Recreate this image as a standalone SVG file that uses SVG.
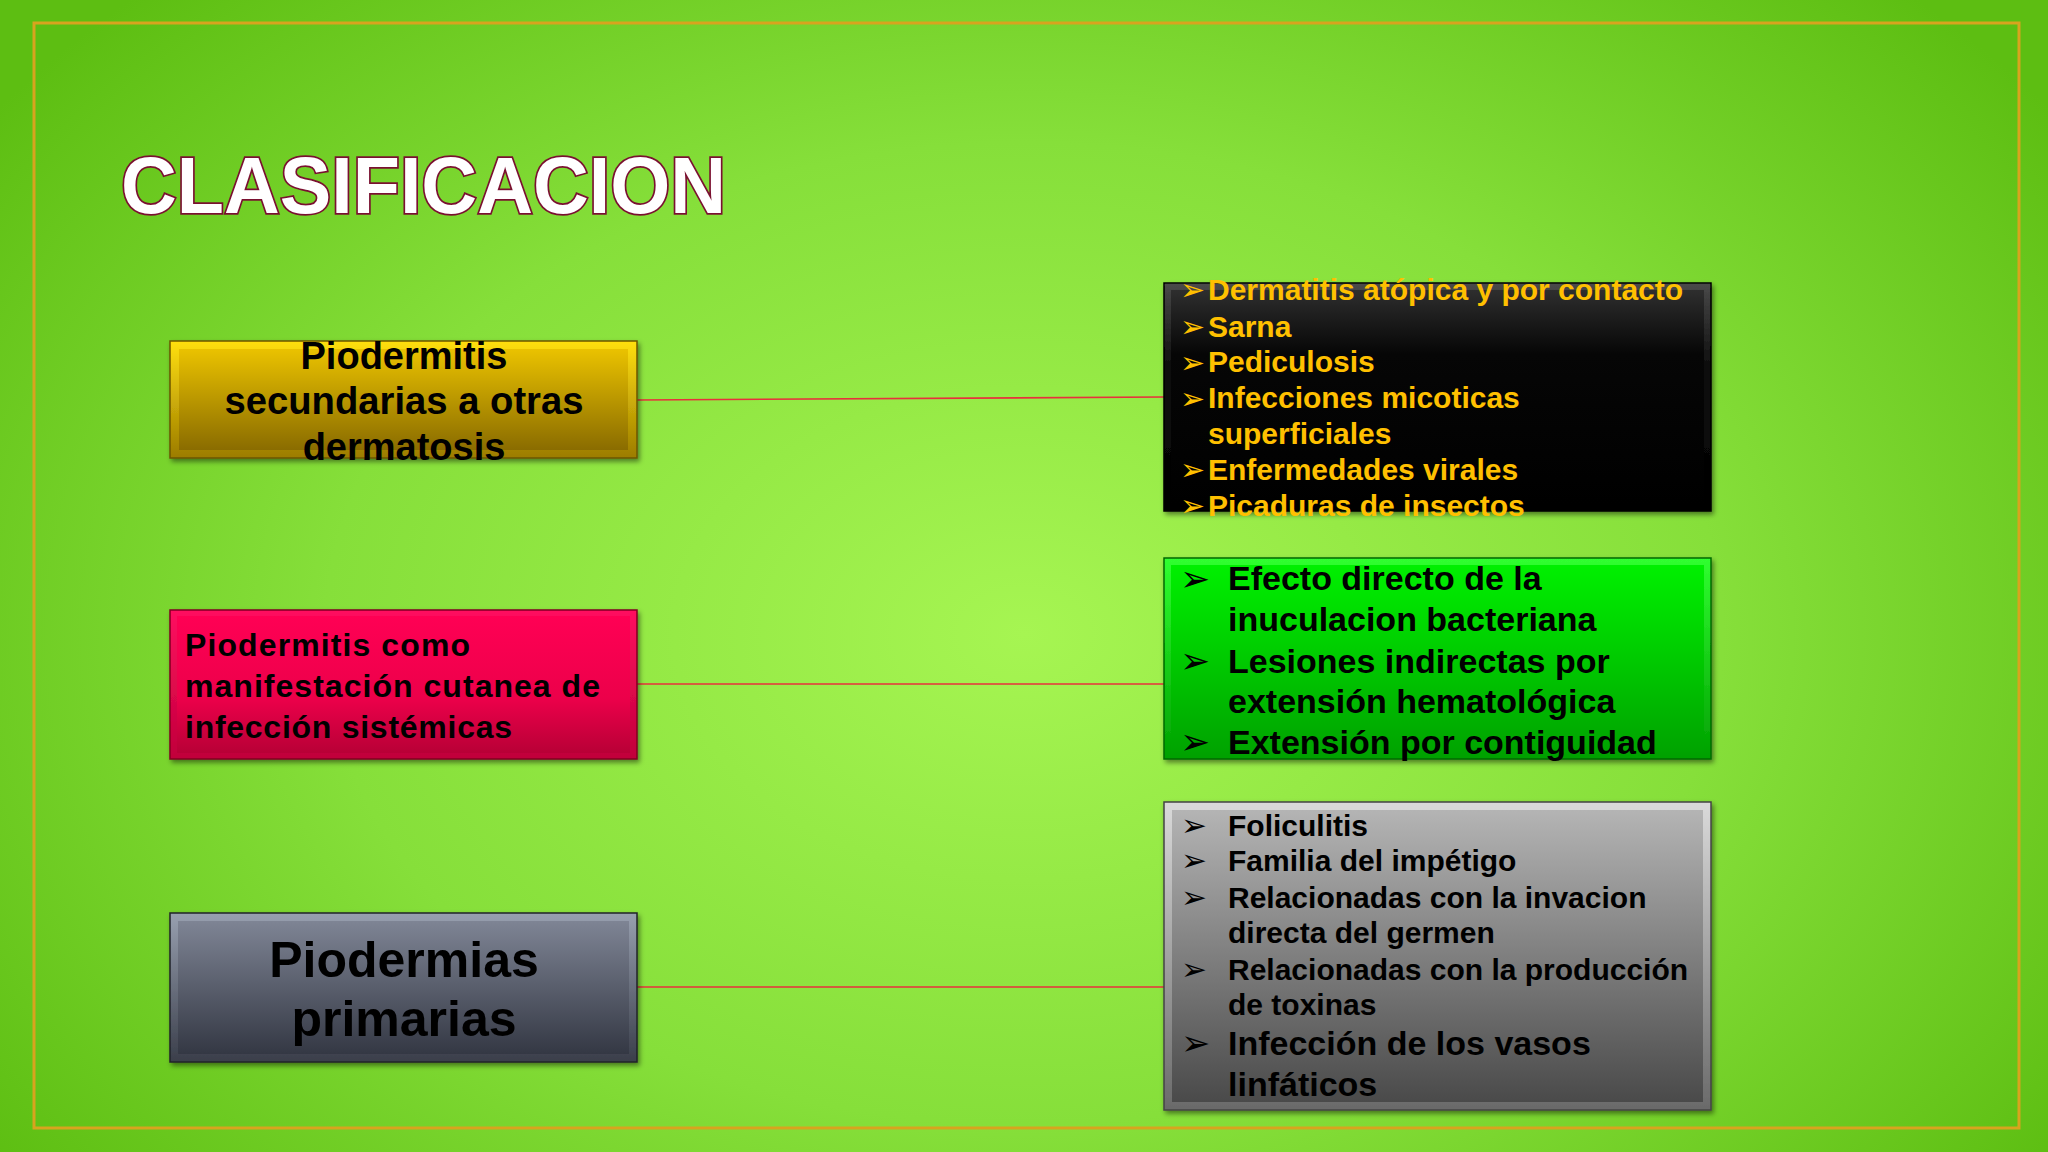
<svg xmlns="http://www.w3.org/2000/svg" width="2048" height="1152" viewBox="0 0 2048 1152">
<defs>
<radialGradient id="bg" cx="0.5" cy="0.55" r="0.62" gradientTransform="translate(0.5 0.55) scale(1 1.25) translate(-0.5 -0.55)">
<stop offset="0" stop-color="#A6F552"/>
<stop offset="0.55" stop-color="#86DF3A"/>
<stop offset="1" stop-color="#5DBE12"/>
</radialGradient>
<linearGradient id="yF" x1="0" y1="0" x2="0" y2="1"><stop offset="0" stop-color="#FFDF10"/><stop offset="1" stop-color="#9C7C00"/></linearGradient>
<linearGradient id="yI" x1="0" y1="0" x2="0" y2="1"><stop offset="0" stop-color="#EAC200"/><stop offset="1" stop-color="#8A6C00"/></linearGradient>
<linearGradient id="rF" x1="0" y1="0" x2="0" y2="1"><stop offset="0" stop-color="#FF1060"/><stop offset="1" stop-color="#C0003A"/></linearGradient>
<linearGradient id="rI" x1="0" y1="0" x2="0" y2="1"><stop offset="0" stop-color="#FF0054"/><stop offset="0.6" stop-color="#EC004A"/><stop offset="1" stop-color="#B80036"/></linearGradient>
<linearGradient id="gF" x1="0" y1="0" x2="0" y2="1"><stop offset="0" stop-color="#98A0B0"/><stop offset="1" stop-color="#3A3E4A"/></linearGradient>
<linearGradient id="gI" x1="0" y1="0" x2="0" y2="1"><stop offset="0" stop-color="#7E8494"/><stop offset="1" stop-color="#343844"/></linearGradient>
<linearGradient id="kF" x1="0" y1="0" x2="0" y2="1"><stop offset="0" stop-color="#4A4A4A"/><stop offset="0.35" stop-color="#101010"/><stop offset="1" stop-color="#000"/></linearGradient>
<linearGradient id="kI" x1="0" y1="0" x2="0" y2="1"><stop offset="0" stop-color="#2E2E2E"/><stop offset="0.3" stop-color="#060606"/><stop offset="1" stop-color="#000"/></linearGradient>
<linearGradient id="nF" x1="0" y1="0" x2="0" y2="1"><stop offset="0" stop-color="#30FF30"/><stop offset="1" stop-color="#00A000"/></linearGradient>
<linearGradient id="nI" x1="0" y1="0" x2="0" y2="1"><stop offset="0" stop-color="#00F000"/><stop offset="1" stop-color="#00A400"/></linearGradient>
<linearGradient id="sF" x1="0" y1="0" x2="0" y2="1"><stop offset="0" stop-color="#DADADA"/><stop offset="1" stop-color="#6A6A6A"/></linearGradient>
<linearGradient id="sI" x1="0" y1="0" x2="0" y2="1"><stop offset="0" stop-color="#B4B4B4"/><stop offset="1" stop-color="#4A4A4A"/></linearGradient>
<filter id="sh" x="-5%" y="-5%" width="112%" height="115%"><feDropShadow dx="2" dy="3" stdDeviation="2.5" flood-color="#000" flood-opacity="0.45"/></filter>
</defs>
<style>
.t{font-family:"Liberation Sans",Arial,sans-serif;font-weight:bold}
.blk{fill:#000}
.yel{fill:#FFC000}
.bul{font-family:"DejaVu Sans",sans-serif}
.conn{stroke:#E8303C;stroke-width:1.6;fill:none}
</style>
<rect width="2048" height="1152" fill="url(#bg)"/>
<rect x="34" y="23" width="1985" height="1105" fill="none" stroke="#D8A41E" stroke-width="3"/>
<text x="121" y="213" class="t" font-size="79" fill="#FFFFFF" stroke="#7A1030" stroke-width="3.5" paint-order="stroke" textLength="605" lengthAdjust="spacingAndGlyphs">CLASIFICACION</text>

<g id="connectors">
<line class="conn" x1="637" y1="400" x2="1164" y2="397"/>
<line class="conn" x1="637" y1="684" x2="1164" y2="684"/>
<line class="conn" x1="637" y1="987" x2="1164" y2="987"/>
</g>

<g id="node-secundarias">
<rect x="170" y="341" width="467" height="117" fill="url(#yF)" stroke="#6B5600" stroke-width="1.5" filter="url(#sh)"/>
<rect x="179" y="349" width="449" height="101" fill="url(#yI)"/>
<g class="t blk" font-size="38" text-anchor="middle">
<text x="404" y="369">Piodermitis</text>
<text x="404" y="414" textLength="359" lengthAdjust="spacingAndGlyphs">secundarias a otras</text>
<text x="404" y="460">dermatosis</text>
</g>
</g>

<g id="node-sistemicas">
<rect x="170" y="610" width="467" height="149" fill="url(#rF)" stroke="#800020" stroke-width="1.5" filter="url(#sh)"/>
<rect x="177" y="616" width="453" height="137" fill="url(#rI)"/>
<g class="t blk" font-size="32">
<text x="185" y="656" textLength="285" lengthAdjust="spacing">Piodermitis como</text>
<text x="185" y="697" textLength="415" lengthAdjust="spacing">manifestación cutanea de</text>
<text x="185" y="738" textLength="327" lengthAdjust="spacing">infección sistémicas</text>
</g>
</g>

<g id="node-primarias">
<rect x="170" y="913" width="467" height="149" fill="url(#gF)" stroke="#20232A" stroke-width="1.5" filter="url(#sh)"/>
<rect x="178" y="921" width="451" height="133" fill="url(#gI)"/>
<g class="t blk" font-size="50" text-anchor="middle">
<text x="404" y="977">Piodermias</text>
<text x="404" y="1036">primarias</text>
</g>
</g>

<g id="node-dermatosis-list">
<rect x="1164" y="283" width="547" height="228" fill="url(#kF)" stroke="#000" stroke-width="1.5" filter="url(#sh)"/>
<rect x="1171" y="290" width="533" height="214" fill="url(#kI)"/>
<g class="yel" font-size="30">
<text class="bul" x="1180" y="300">➢</text>
<text class="bul" x="1180" y="337">➢</text>
<text class="bul" x="1180" y="373">➢</text>
<text class="bul" x="1180" y="409">➢</text>
<text class="bul" x="1180" y="480">➢</text>
<text class="bul" x="1180" y="516">➢</text>
</g>
<g class="t yel" font-size="30">
<text x="1208" y="300">Dermatitis atópica y por contacto</text>
<text x="1208" y="337">Sarna</text>
<text x="1208" y="372">Pediculosis</text>
<text x="1208" y="408">Infecciones micoticas</text>
<text x="1208" y="444">superficiales</text>
<text x="1208" y="480">Enfermedades virales</text>
<text x="1208" y="516">Picaduras de insectos</text>
</g>
</g>

<g id="node-sistemicas-list">
<rect x="1164" y="558" width="547" height="201" fill="url(#nF)" stroke="#006A00" stroke-width="1.5" filter="url(#sh)"/>
<rect x="1171" y="565" width="533" height="187" fill="url(#nI)"/>
<g class="blk" font-size="36">
<text class="bul" x="1180" y="591">➢</text>
<text class="bul" x="1180" y="673">➢</text>
<text class="bul" x="1180" y="754">➢</text>
</g>
<g class="t blk" font-size="34">
<text x="1228" y="590">Efecto directo de la</text>
<text x="1228" y="631">inuculacion bacteriana</text>
<text x="1228" y="673">Lesiones indirectas por</text>
<text x="1228" y="713">extensión hematológica</text>
<text x="1228" y="754">Extensión por contiguidad</text>
</g>
</g>

<g id="node-primarias-list">
<rect x="1164" y="802" width="547" height="308" fill="url(#sF)" stroke="#444" stroke-width="1.5" filter="url(#sh)"/>
<rect x="1172" y="810" width="531" height="292" fill="url(#sI)"/>
<g class="blk" font-size="31">
<text class="bul" x="1181" y="836">➢</text>
<text class="bul" x="1181" y="871">➢</text>
<text class="bul" x="1181" y="908">➢</text>
<text class="bul" x="1181" y="980">➢</text>
<text class="bul" x="1181" y="1055" font-size="35">➢</text>
</g>
<g class="t blk" font-size="30">
<text x="1228" y="836">Foliculitis</text>
<text x="1228" y="871">Familia del impétigo</text>
<text x="1228" y="908">Relacionadas con la invacion</text>
<text x="1228" y="943">directa del germen</text>
<text x="1228" y="980">Relacionadas con la producción</text>
<text x="1228" y="1015">de toxinas</text>
<text x="1228" y="1055" font-size="34">Infección de los vasos</text>
<text x="1228" y="1096" font-size="34">linfáticos</text>
</g>
</g>
</svg>
